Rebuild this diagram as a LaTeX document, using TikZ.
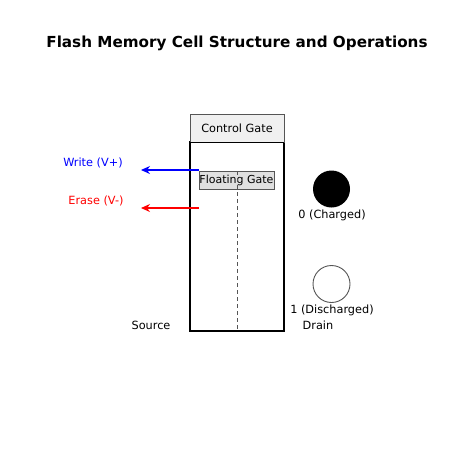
\documentclass[tikz,border=0pt]{standalone}
\usepackage{fontspec}
\setmainfont{DejaVu Sans}
\usetikzlibrary{arrows.meta}
\definecolor{cgfill}{HTML}{F0F0F0}
\definecolor{fgfill}{HTML}{E0E0E0}
\definecolor{bordergray}{HTML}{555555}
\tikzset{
  lbl/.style={font=\fontsize{11.3}{13}\selectfont, inner sep=0pt},
  arr/.style={line width=1.3pt, -{Stealth[length=9pt,width=8pt]}},
  gatebox/.style={draw=bordergray, line width=0.9pt, inner sep=0pt}
}
\begin{document}
\begin{tikzpicture}[x=1pt,y=-1pt]
\useasboundingbox[fill=white] (0,0) rectangle (474,474);
\node[font=\fontsize{15.2}{17}\selectfont\bfseries, inner sep=0pt] (title) at (237,43) {Flash Memory Cell Structure and Operations};
% main body
\node[draw=black, line width=1.3pt, minimum width=94pt, minimum height=189pt, inner sep=0pt] (body) at (237,236.5) {};
\node[gatebox, fill=cgfill, minimum width=94pt, minimum height=28pt, lbl] (cg) at (237,128) {\raisebox{-1pt}{Control Gate}};
\draw[line width=1.3pt] (cg.south west) -- (cg.south east);
\node[gatebox, fill=fgfill, minimum width=75pt, minimum height=18pt, lbl, font=\fontsize{11}{13}\selectfont] (fg) at (236.5,180) {\raisebox{-1pt}{Floating Gate}};
\coordinate (dtop) at (237,171);
\coordinate (dbot) at (237,331);
\draw[bordergray, line width=0.9pt, dash pattern=on 4pt off 3pt] (dtop) -- (dbot);
% arrows
\coordinate (wstart) at (199,170);
\coordinate (wend) at (141,170);
\coordinate (estart) at (199,208);
\coordinate (eend) at (141,208);
\draw[arr, blue] (wstart) -- (wend);
\draw[arr, red] (estart) -- (eend);
\node[lbl, text=blue] (wl) at (93,162.5) {Write (V+)};
\node[lbl, text=red] (el) at (96,201) {Erase (V-)};
% states
\node[circle, fill=black, minimum size=37pt, inner sep=0pt] (c0) at (331.5,189) {};
\node[lbl] (l0) at (332,215.5) {0 (Charged)};
\node[circle, draw=bordergray, line width=0.9pt, fill=white, minimum size=37pt, inner sep=0pt] (c1) at (331.5,284) {};
\node[lbl] (l1) at (332,310.5) {1 (Discharged)};
\node[lbl] (drain) at (318,325) {Drain};
\node[lbl] (src) at (151,325) {Source};
\end{tikzpicture}
\end{document}
